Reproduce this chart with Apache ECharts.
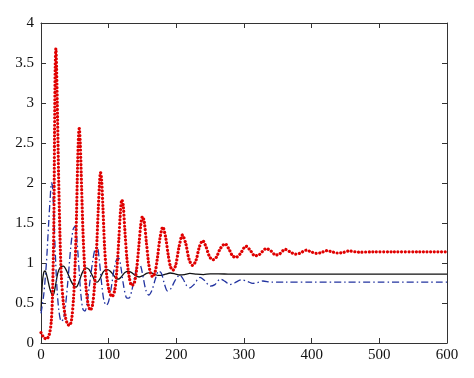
<!DOCTYPE html>
<html>
<head>
<meta charset="utf-8">
<script src="https://cdn.jsdelivr.net/npm/echarts@6/dist/echarts.min.js"></script>
<style>
  html, body { margin: 0; padding: 0; background: #fff; }
  #chart { width: 474px; height: 378px; }
</style>
</head>
<body>
<div id="chart"></div>
<script>
// red dotted curve
const redX = [0, 4, 8, 12, 15, 17, 19, 20, 21, 22, 23, 24.5, 26, 28, 30, 33, 36, 39, 42, 45, 48, 50.5, 52.5, 54, 55.5, 56.5, 58, 60, 62, 64.5, 67, 70, 73, 76, 79, 82, 84.5, 86.5, 88, 89.5, 91.5, 94, 97, 101, 105, 109, 112, 115, 117.5, 119.5, 121.5, 124, 127, 130.5, 134, 137.5, 141, 144.5, 147.5, 150, 152.5, 155.5, 159, 162, 165, 168.5, 172, 176, 180, 184, 188, 191.5, 195, 199, 204, 209, 214, 219, 224, 229, 234, 239, 244, 249, 254, 259, 265, 272, 278, 283, 288, 294, 303, 310, 316, 322, 333, 340, 347, 352, 361, 368, 376, 382, 392, 399, 407, 414, 422, 430, 438, 446, 455, 470, 490, 520, 560, 600];
const redY = [0.13, 0.07, 0.05, 0.10, 0.25, 0.6, 1.5, 2.6, 3.45, 3.68, 3.45, 2.8, 2.1, 1.35, 0.85, 0.5, 0.33, 0.24, 0.22, 0.28, 0.55, 1.0, 1.6, 2.2, 2.6, 2.68, 2.5, 1.95, 1.4, 0.95, 0.65, 0.47, 0.41, 0.47, 0.7, 1.15, 1.65, 2.0, 2.13, 2.05, 1.7, 1.2, 0.85, 0.64, 0.58, 0.66, 0.9, 1.3, 1.65, 1.79, 1.72, 1.4, 1.05, 0.82, 0.72, 0.74, 0.9, 1.2, 1.48, 1.58, 1.52, 1.28, 1.0, 0.87, 0.83, 0.88, 1.06, 1.32, 1.45, 1.33, 1.1, 0.95, 0.91, 0.97, 1.2, 1.35, 1.24, 1.04, 0.97, 1.03, 1.2, 1.28, 1.2, 1.08, 1.04, 1.07, 1.18, 1.24, 1.17, 1.09, 1.07, 1.11, 1.21, 1.15, 1.09, 1.1, 1.18, 1.15, 1.1, 1.11, 1.17, 1.14, 1.11, 1.12, 1.16, 1.14, 1.12, 1.13, 1.155, 1.14, 1.125, 1.13, 1.15, 1.135, 1.14, 1.14, 1.14, 1.14];

// blue dash-dot curve
const blueX = [0, 4, 8, 11, 13.5, 15.5, 17, 19, 21, 23.5, 26.5, 30, 33, 36, 40, 44, 47.5, 50.5, 53, 56, 59, 62, 65, 68, 72, 76, 80, 83, 86, 89.5, 93, 96.5, 100, 104, 108, 112, 115, 118, 122, 126, 130, 134, 139, 143.5, 147, 151, 155, 159, 164, 169, 174, 178, 182, 187, 192, 198, 205, 210, 215, 220, 226, 235, 242, 250, 257, 265, 272, 279, 286, 296, 305, 313, 320, 328, 340, 360, 400, 450, 500, 600];
const blueY = [0.37, 0.6, 1.0, 1.45, 1.8, 2.0, 1.95, 1.6, 1.15, 0.7, 0.4, 0.27, 0.3, 0.45, 0.8, 1.2, 1.42, 1.46, 1.3, 0.95, 0.6, 0.42, 0.4, 0.5, 0.75, 1.0, 1.18, 1.2, 1.05, 0.75, 0.53, 0.47, 0.52, 0.7, 0.92, 1.05, 1.06, 0.95, 0.72, 0.57, 0.56, 0.65, 0.85, 0.98, 0.97, 0.82, 0.66, 0.6, 0.66, 0.8, 0.9, 0.87, 0.75, 0.65, 0.68, 0.78, 0.85, 0.8, 0.72, 0.69, 0.73, 0.82, 0.78, 0.71, 0.73, 0.8, 0.77, 0.73, 0.75, 0.79, 0.77, 0.745, 0.755, 0.775, 0.76, 0.76, 0.76, 0.76, 0.76, 0.76];

// black solid curve
const blackX = [0, 2, 4, 6, 9, 13, 16, 18, 21, 25, 29, 33, 38, 44, 49, 52, 56, 61, 66, 71, 76, 80, 83, 87, 92, 97, 102, 107, 112, 115, 119, 124, 129, 134, 140, 145, 150, 156, 161, 167, 173, 178, 184, 191, 198, 205, 212, 220, 230, 240, 250, 262, 280, 320, 400, 600];
const blackY = [0.4, 0.75, 0.88, 0.9, 0.83, 0.68, 0.61, 0.6, 0.7, 0.88, 0.95, 0.96, 0.9, 0.78, 0.71, 0.70, 0.76, 0.88, 0.94, 0.92, 0.84, 0.77, 0.76, 0.8, 0.89, 0.92, 0.9, 0.85, 0.8, 0.8, 0.83, 0.88, 0.895, 0.88, 0.84, 0.825, 0.84, 0.87, 0.88, 0.865, 0.845, 0.845, 0.86, 0.875, 0.865, 0.85, 0.855, 0.87, 0.86, 0.855, 0.865, 0.865, 0.86, 0.862, 0.862, 0.862];

const xTicks = [0, 100, 200, 300, 400, 500, 600];
const yTicks = [0, 0.5, 1, 1.5, 2, 2.5, 3, 3.5, 4];

const pairs = (xs, ys) => xs.map((x, i) => [x, ys[i]]);

const FONT = 'Liberation Serif';
const AXIS_COLOR = '#333';

const chart = echarts.init(document.getElementById('chart'));

const baseAxis = {
  type: 'value',
  axisLine: { show: true, onZero: false, lineStyle: { color: AXIS_COLOR, width: 1 } },
  axisTick: { show: true, inside: true, length: 5, lineStyle: { color: AXIS_COLOR } },
  splitLine: { show: false },
};

chart.setOption({
  animation: false,
  grid: { left: 41, right: 27, top: 23, bottom: 35 },
  xAxis: [
    Object.assign({}, baseAxis, {
      position: 'bottom',
      min: xTicks[0], max: xTicks[xTicks.length - 1], interval: 100,
      axisLabel: { color: '#111', fontFamily: FONT, fontSize: 15, margin: 5 },
    }),
    Object.assign({}, baseAxis, {
      position: 'top',
      min: xTicks[0], max: xTicks[xTicks.length - 1], interval: 100,
      axisLabel: { show: false },
    }),
  ],
  yAxis: [
    Object.assign({}, baseAxis, {
      position: 'left',
      min: yTicks[0], max: yTicks[yTicks.length - 1], interval: 0.5,
      axisLabel: { color: '#111', fontFamily: FONT, fontSize: 15, margin: 7 },
    }),
    Object.assign({}, baseAxis, {
      position: 'right',
      min: yTicks[0], max: yTicks[yTicks.length - 1], interval: 0.5,
      axisLabel: { show: false },
    }),
  ],
  series: [
    {
      name: 'black',
      type: 'line',
      data: pairs(blackX, blackY),
      showSymbol: false,
      smooth: 0.3,
      lineStyle: { color: '#111', width: 1.3 },
    },
    {
      name: 'blue',
      type: 'line',
      data: pairs(blueX, blueY),
      showSymbol: false,
      smooth: 0.3,
      lineStyle: { color: '#2233a0', width: 1.3, type: [7, 3, 1.5, 3] },
    },
    {
      name: 'red',
      type: 'line',
      data: pairs(redX, redY),
      showSymbol: false,
      smooth: 0.3,
      lineStyle: { color: '#e00000', width: 3.2, type: [0.01, 3.6], cap: 'round' },
    },
  ],
});
</script>
</body>
</html>
